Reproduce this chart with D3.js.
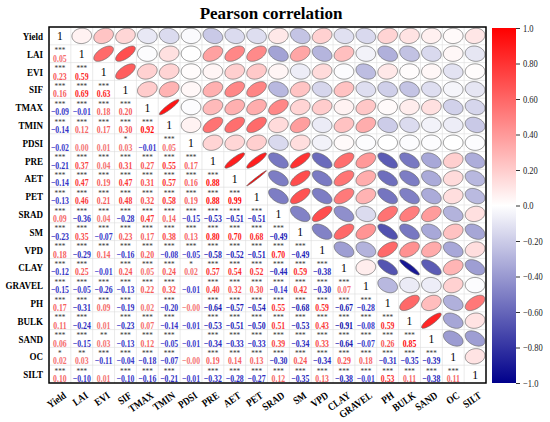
<!DOCTYPE html>
<html>
<head>
<meta charset="utf-8">
<script src="https://cdn.jsdelivr.net/npm/d3@7"></script>
<style>
  body { margin: 0; background: #fff; }
  text { font-family: "Liberation Serif", "Times New Roman", serif; }
</style>
</head>
<body>
<svg id="chart" width="550" height="422"></svg>
<script>
// variables (rows / columns)
const vars = ["Yield", "LAI", "EVI", "SIF", "TMAX", "TMIN", "PDSI", "PRE", "AET", "PET",
  "SRAD", "SM", "VPD", "CLAY", "GRAVEL", "PH", "BULK", "SAND", "OC", "SILT"];

// lower triangle, row i has i values (columns 0..i-1)
const lowerValues = [
  [],
  [0.05],
  [0.23, 0.59],
  [0.16, 0.69, 0.63],
  [-0.09, -0.01, 0.18, 0.20],
  [-0.14, 0.12, 0.17, 0.30, 0.92],
  [-0.02, 0.00, 0.01, 0.03, -0.01, 0.05],
  [-0.21, 0.37, 0.04, 0.31, 0.27, 0.55, 0.17],
  [-0.14, 0.47, 0.19, 0.47, 0.31, 0.57, 0.16, 0.88],
  [-0.13, 0.46, 0.21, 0.48, 0.32, 0.58, 0.19, 0.88, 0.99],
  [0.09, -0.36, 0.04, -0.28, 0.47, 0.14, -0.15, -0.53, -0.51, -0.51],
  [-0.23, 0.35, -0.07, 0.23, 0.17, 0.38, 0.13, 0.80, 0.70, 0.68, -0.49],
  [0.18, -0.29, 0.14, -0.16, 0.20, -0.08, -0.05, -0.58, -0.52, -0.51, 0.70, -0.49],
  [-0.12, 0.25, -0.01, 0.24, 0.05, 0.24, 0.02, 0.57, 0.54, 0.52, -0.44, 0.59, -0.38],
  [-0.15, -0.05, -0.26, -0.13, 0.22, 0.32, -0.01, 0.40, 0.32, 0.30, -0.14, 0.42, -0.30, 0.07],
  [0.17, -0.31, 0.09, -0.19, 0.02, -0.20, -0.00, -0.64, -0.57, -0.54, 0.55, -0.68, 0.59, -0.67, -0.28],
  [0.11, -0.24, 0.01, -0.23, 0.07, -0.14, -0.01, -0.53, -0.51, -0.50, 0.51, -0.53, 0.43, -0.91, -0.08, 0.59],
  [0.06, -0.15, 0.03, -0.13, 0.12, -0.05, -0.01, -0.34, -0.33, -0.33, 0.39, -0.34, 0.33, -0.64, -0.07, 0.26, 0.85],
  [0.02, 0.03, -0.11, -0.04, -0.18, -0.07, -0.00, 0.19, 0.14, 0.13, -0.30, 0.24, -0.34, 0.29, 0.18, -0.31, -0.35, -0.39],
  [0.10, -0.10, 0.01, -0.10, -0.16, -0.21, -0.01, -0.32, -0.28, -0.27, 0.12, -0.35, 0.13, -0.38, -0.01, 0.53, 0.11, -0.38, 0.11]
];

// number of significance stars for each lower-triangle cell
const lowerStars = [
  [],
  [3],
  [3, 3],
  [3, 3, 3],
  [3, 3, 3, 3],
  [3, 3, 3, 3, 3],
  [0, 0, 0, 1, 0, 3],
  [3, 3, 3, 3, 3, 3, 3],
  [3, 3, 3, 3, 3, 3, 3, 3],
  [3, 3, 3, 3, 3, 3, 3, 3, 3],
  [3, 3, 3, 3, 3, 3, 3, 3, 3, 3],
  [3, 3, 3, 3, 3, 3, 3, 3, 3, 3, 3],
  [3, 3, 3, 3, 3, 3, 3, 3, 3, 3, 3, 3],
  [3, 3, 0, 3, 3, 3, 1, 3, 3, 3, 3, 3, 3],
  [3, 3, 3, 3, 3, 3, 0, 3, 3, 3, 3, 3, 3, 3],
  [3, 3, 3, 3, 0, 3, 0, 3, 3, 3, 3, 3, 3, 3, 3],
  [3, 3, 0, 3, 3, 3, 0, 3, 3, 3, 3, 3, 3, 3, 3, 3],
  [3, 3, 2, 3, 3, 3, 0, 3, 3, 3, 3, 3, 3, 3, 3, 3, 3],
  [1, 2, 3, 3, 3, 3, 0, 3, 3, 3, 3, 3, 3, 3, 3, 3, 3, 3],
  [3, 3, 0, 3, 3, 3, 0, 3, 3, 3, 3, 3, 3, 3, 3, 3, 3, 3, 3]
];

const colorTicks = [1, 0.8, 0.6, 0.4, 0.2, 0, -0.2, -0.4, -0.6, -0.8, -1];
const colorTickLabels = ["1.0", "0.80", "0.60", "0.40", "0.20", "0.0", "\u22120.20", "\u22120.40", "\u22120.60", "\u22120.80", "\u22121.0"];

const svg = d3.select("#chart");
const margin = { top: 27, left: 49, right: 486, bottom: 383 };
const n = vars.length;
const squeeze = 0.82;  // the reference text is horizontally narrow

const x = d3.scaleBand().domain(d3.range(n)).range([margin.left, margin.right]);
const y = d3.scaleBand().domain(d3.range(n)).range([margin.top, margin.bottom]);
const bw = x.bandwidth(), bh = y.bandwidth();

const color = d3.scaleLinear().domain([-1, 0, 1]).range(["#00008b", "#ffffff", "#ff0000"]);
const fmt = v => (v < 0 || Object.is(v, -0) ? "\u2212" : "") + Math.abs(v).toFixed(2);
const at = (px, py, sx = squeeze) => `translate(${px},${py}) scale(${sx},1)`;

// full matrix
const cells = [];
for (let i = 0; i < n; i++) {
  for (let j = 0; j < n; j++) {
    let r, s = 0, part;
    if (i === j) { r = 1; part = "diag"; }
    else if (j < i) { r = lowerValues[i][j]; s = lowerStars[i][j]; part = "lower"; }
    else { r = lowerValues[j][i]; part = "upper"; }
    cells.push({ i, j, r, s, part });
  }
}

// title
svg.append("text")
  .attr("x", 271).attr("y", 19)
  .attr("text-anchor", "middle")
  .attr("font-size", 17).attr("font-weight", "bold")
  .text("Pearson correlation");

// grid
const grid = svg.append("g").attr("stroke", "#dcdcdc").attr("stroke-width", 0.6);
d3.range(1, n).forEach(k => {
  grid.append("line").attr("x1", x(k)).attr("x2", x(k)).attr("y1", margin.top).attr("y2", margin.bottom);
  grid.append("line").attr("y1", y(k)).attr("y2", y(k)).attr("x1", margin.left).attr("x2", margin.right);
});

// ellipses (upper triangle)
const ellipse = d3.line().curve(d3.curveLinearClosed);
function ellipsePoints(r, cx, cy) {
  const d = Math.acos(Math.max(-1, Math.min(1, r)));
  const rx = bw * 0.45, ry = bh * 0.43;
  return d3.range(0, 2 * Math.PI, Math.PI / 40).map(t =>
    [cx + Math.cos(t + d / 2) * rx, cy - Math.cos(t - d / 2) * ry]);
}

svg.append("g").selectAll("path")
  .data(cells.filter(c => c.part === "upper"))
  .join("path")
  .attr("d", c => ellipse(ellipsePoints(c.r, x(c.j) + bw / 2, y(c.i) + bh / 2)))
  .attr("fill", c => color(c.r))
  .attr("stroke", "#666")
  .attr("stroke-width", 0.7);

// diagonal
svg.append("g").selectAll("text")
  .data(cells.filter(c => c.part === "diag"))
  .join("text")
  .attr("transform", c => at(x(c.j) + bw / 2, y(c.i) + bh / 2 + 4.5, 0.9))
  .attr("text-anchor", "middle")
  .attr("font-size", 13)
  .text("1");

// lower triangle: stars + values
const lowerCells = cells.filter(c => c.part === "lower");
svg.append("g").selectAll("text")
  .data(lowerCells.filter(c => c.s > 0))
  .join("text")
  .attr("transform", c => at(x(c.j) + bw / 2, y(c.i) + 8.5, 0.9))
  .attr("text-anchor", "middle")
  .attr("font-size", 8)
  .attr("fill", "#333")
  .text(c => "*".repeat(c.s));

const textColor = r => r >= 0
  ? d3.interpolateRgb("#f47575", "#ff0000")(Math.min(1, r / 0.9))
  : d3.interpolateRgb("#3d3dcc", "#0a0aa8")(Math.min(1, -r / 0.9));

svg.append("g").selectAll("text")
  .data(lowerCells)
  .join("text")
  .attr("transform", c => at(x(c.j) + bw / 2, y(c.i) + bh - 0.8))
  .attr("text-anchor", "middle")
  .attr("font-size", 9.5)
  .attr("font-weight", "bold")
  .attr("fill", c => textColor(c.r))
  .text(c => fmt(c.r));

// frame
svg.append("rect")
  .attr("x", margin.left).attr("y", margin.top)
  .attr("width", margin.right - margin.left).attr("height", margin.bottom - margin.top)
  .attr("fill", "none").attr("stroke", "#000").attr("stroke-width", 1.5);

// row labels
svg.append("g").selectAll("text")
  .data(vars)
  .join("text")
  .attr("transform", (d, k) => at(margin.left - 6, y(k) + bh / 2 + 4, 0.86))
  .attr("text-anchor", "end")
  .attr("font-size", 10.5).attr("font-weight", "bold")
  .text(d => d);

// column labels
svg.append("g").selectAll("text")
  .data(vars)
  .join("text")
  .attr("transform", (d, k) => `translate(${x(k) + bw / 2 + 7},${margin.bottom + 14}) rotate(-35) scale(0.86,1)`)
  .attr("text-anchor", "end")
  .attr("font-size", 10.5).attr("font-weight", "bold")
  .text(d => d);

// colour bar
const cb = { x: 492, w: 24, top: 28, bottom: 383 };
const defs = svg.append("defs");
const grad = defs.append("linearGradient").attr("id", "cbar")
  .attr("x1", 0).attr("x2", 0).attr("y1", 0).attr("y2", 1);
[1, 0, -1].forEach((v, k) => grad.append("stop").attr("offset", k / 2).attr("stop-color", color(v)));
svg.append("rect")
  .attr("x", cb.x).attr("y", cb.top)
  .attr("width", cb.w).attr("height", cb.bottom - cb.top)
  .attr("fill", "url(#cbar)");

const cy = d3.scaleLinear().domain([1, -1]).range([cb.top, cb.bottom]);
const cAxis = svg.append("g")
  .attr("transform", `translate(${cb.x + cb.w},0)`)
  .call(d3.axisRight(cy).tickValues(colorTicks).tickSize(4)
    .tickFormat((d, k) => colorTickLabels[k]));
cAxis.select(".domain").remove();
cAxis.selectAll(".tick line").attr("stroke", "#333");
cAxis.selectAll(".tick text")
  .attr("font-size", 10)
  .attr("fill", "#222")
  .attr("transform", "translate(7,0) scale(0.85,1)")
  .attr("x", 0);
</script>
</body>
</html>
